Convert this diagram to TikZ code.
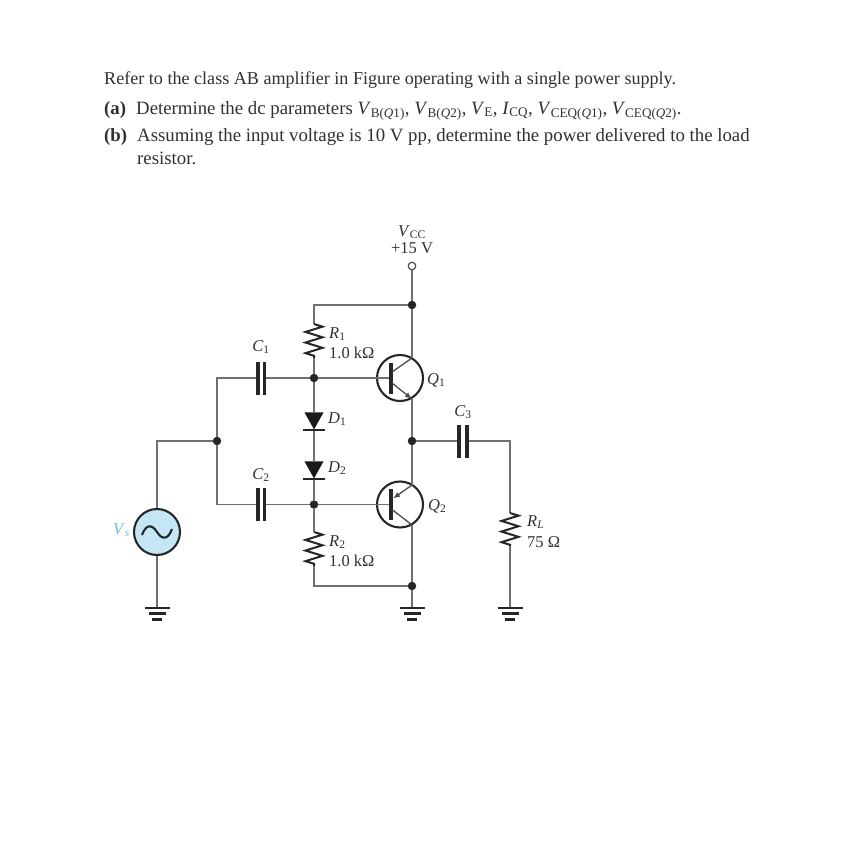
\documentclass[tikz,border=0pt]{standalone}
\usepackage{fontspec}
\setmainfont{Liberation Serif}
\usetikzlibrary{shapes.geometric, arrows.meta, decorations.pathmorphing}
\definecolor{inkgray}{HTML}{303030}
\definecolor{wiregray}{HTML}{707070}
\definecolor{srcblue}{HTML}{C5E6F5}
\definecolor{labelblue}{HTML}{6DBBE0}
\newcommand{\subsc}[2]{\textit{#1}\textsubscript{#2}}
\tikzstyle{para} = [anchor=base west, inner sep=0, text=inkgray, font=\fontsize{18.8}{20}\selectfont]
\tikzstyle{lab} = [anchor=base west, inner sep=0, text=inkgray, font=\fontsize{16.5}{18}\selectfont]
\tikzstyle{wire} = [draw=wiregray, line width=1.3pt]
\tikzstyle{res} = [draw=black!85, line width=2pt, line join=miter, decorate, decoration={zigzag, segment length=10.6pt, amplitude=8.5pt}]
\tikzstyle{dot} = [circle, fill=black!85, inner sep=0, minimum size=8.5pt]
\tikzstyle{term} = [circle, draw=black!70, fill=white, line width=1.2pt, inner sep=0, minimum size=7.5pt]
\tikzstyle{plate} = [rectangle, fill=black!85, inner sep=0, minimum width=3.2pt, minimum height=33pt]
\tikzstyle{bjt} = [circle, draw=black!85, line width=2.1pt, inner sep=0, minimum size=46pt]
\tikzstyle{bar} = [rectangle, fill=black!85, inner sep=0, minimum width=4.4pt, minimum height=31pt]
\tikzstyle{leg} = [draw=black!70, line width=1.3pt]
\tikzstyle{diode} = [isosceles triangle, isosceles triangle stretches, shape border rotate=-90, fill=black!90, inner sep=0, minimum width=19pt, minimum height=17pt]
\tikzstyle{stroke} = [draw=black!85, line width=2.1pt]
\tikzset{gnd/.pic={
\fill [black!85] (-12.5,-1.4) rectangle (12.5,1.4);
\fill [black!85] (-8.5,4.4) rectangle (8.5,7.2);
\fill [black!85] (-5,10.2) rectangle (5,13.4);
}}

\begin{document}
\begin{tikzpicture}[x=1pt, y=-1pt]
\useasboundingbox (0,0) rectangle (864,864);

\node (line1) [para, font=\fontsize{18.1}{20}\selectfont] at (104,85) {Refer to the class AB amplifier in Figure operating with a single power supply.};
\node (parta) [para] at (104,114) {\textbf{(a)}};
\node (line2) [para] at (136,114) {Determine the dc parameters \subsc{V}{B(\textit{Q}1)}, \subsc{V}{B(\textit{Q}2)}, \subsc{V}{E}, \subsc{I}{CQ}, \subsc{V}{CEQ(\textit{Q}1)}, \subsc{V}{CEQ(\textit{Q}2)}.};
\node (partb) [para] at (104,142) {\textbf{(b)}};
\node (line3) [para] at (137,142) {Assuming the input voltage is 10 V pp, determine the power delivered to the load};
\node (line4) [para] at (137,164) {resistor.};

\node (vcc) [term] at (412,266) {};
\node (topr) [dot] at (412,305) {};
\coordinate (topl) at (314,305);
\coordinate (r1a) at (314,324);
\coordinate (r1b) at (314,358);
\node (b1) [dot] at (314,378) {};
\node (q1) [bjt] at (400,378) {};
\node (bar1) [bar] at (391,378) {};
\coordinate (col1) at (412,358);
\coordinate (emi1) at (412,399);
\node (c1b) [plate] at (264.5,378) {};
\node (c1a) [plate] at (258,378) {};
\coordinate (lft1) at (217,378);
\node (inp) [dot] at (217,441) {};
\coordinate (inl) at (157,441);
\node (d1) [diode] at (314,418) {};
\node (d2) [diode] at (314,467) {};
\node (mid) [dot] at (412,441) {};
\node (c3a) [plate] at (459,441) {};
\node (c3b) [plate] at (467,441) {};
\coordinate (rgt) at (510,441);
\coordinate (rla) at (510,513);
\coordinate (rlb) at (510,546);
\coordinate (g3) at (510,608);
\node (b2) [dot] at (314,504.5) {};
\node (q2) [bjt] at (400,504.5) {};
\node (bar2) [bar] at (391,504.5) {};
\coordinate (col2) at (412,485);
\coordinate (emi2) at (412,525);
\node (c2b) [plate] at (264.5,504.5) {};
\node (c2a) [plate] at (258,504.5) {};
\coordinate (lft2) at (217,504.5);
\coordinate (r2a) at (314,532);
\coordinate (r2b) at (314,566);
\coordinate (botl) at (314,586);
\node (botr) [dot] at (412,586) {};
\coordinate (g2) at (412,608);
\node (vs) [circle, draw=black!85, fill=srcblue, line width=2.1pt, inner sep=0, minimum size=46pt] at (157,532) {};
\coordinate (g1) at (157,608);

\draw [wire] (vcc) -- (topr);
\draw [wire] (topr) -- (topl) -- (r1a);
\draw [res] (r1a) -- (r1b);
\draw [wire] (r1b) -- (b1);
\draw [wire] (b1) -- (bar1);
\draw [wire] (topr) -- (col1);
\draw [wire] (emi1) -- (mid);
\draw [wire] (mid) -- (col2);
\draw [wire] (emi2) -- (botr);
\draw [wire] (botr) -- (g2);
\draw [wire] (botr) -- (botl) -- (r2b);
\draw [res] (r2a) -- (r2b);
\draw [wire] (r2a) -- (b2);
\draw [wire] (b2) -- (bar2);
\draw [wire] (b1) -- (d1);
\draw [wire] (d1) -- (d2);
\draw [wire] (d2) -- (b2);
\draw [wire] (b1) -- (c1b);
\draw [wire] (c1a) -- (lft1) -- (inp);
\draw [wire] (b2) -- (c2b);
\draw [wire] (c2a) -- (lft2) -- (inp);
\draw [wire] (inp) -- (inl) -- (vs);
\draw [wire] (vs) -- (g1);
\draw [wire] (mid) -- (c3a);
\draw [wire] (c3b) -- (rgt) -- (rla);
\draw [res] (rla) -- (rlb);
\draw [wire] (rlb) -- (g3);

\draw [leg] (bar1) ++(1,-6) -- (col1);
\draw [leg, -{Latex[length=7pt, width=5.5pt]}] (bar1) ++(1,5) -- (emi1);
\draw [leg, {Latex[length=7pt, width=5.5pt]}-] (bar2) ++(2,-6) -- (col2);
\draw [leg] (bar2) ++(1,5) -- (emi2);
\draw [stroke] ([xshift=-11pt]d1.apex) -- ([xshift=11pt]d1.apex);
\draw [stroke] ([xshift=-11pt]d2.apex) -- ([xshift=11pt]d2.apex);
\draw [stroke, shift={(157,532)}] (-15,3) .. controls (-11,-8) and (-5,-8) .. (0,0) .. controls (5,8) and (11,8) .. (15,-3);
\pic at (g1) {gnd};
\pic at (g2) {gnd};
\pic at (g3) {gnd};

\node (vcclab) [lab, anchor=base] at (412,236) {\subsc{V}{CC}};
\node (vlab) [lab, anchor=base] at (412,253) {+15 V};
\node (r1lab) [lab] at (329,338) {\subsc{R}{1}};
\node (r1val) [lab] at (329,358) {1.0 kΩ};
\node (c1lab) [lab, anchor=base] at (261,351) {\subsc{C}{1}};
\node (q1lab) [lab] at (427,384) {\subsc{Q}{1}};
\node (d1lab) [lab] at (328,423) {\subsc{D}{1}};
\node (d2lab) [lab] at (328,472) {\subsc{D}{2}};
\node (c3lab) [lab, anchor=base] at (463,416) {\subsc{C}{3}};
\node (c2lab) [lab, anchor=base] at (261,479) {\subsc{C}{2}};
\node (q2lab) [lab] at (428,510) {\subsc{Q}{2}};
\node (r2lab) [lab] at (329,546) {\subsc{R}{2}};
\node (r2val) [lab] at (329,566) {1.0 kΩ};
\node (rllab) [lab] at (527,526) {\subsc{R}{\textit{L}}};
\node (rlval) [lab] at (527,547) {75 Ω};
\node (vslab) [lab, text=labelblue] at (113,534) {\subsc{V}{\textit{s}}};
\end{tikzpicture}
\end{document}
